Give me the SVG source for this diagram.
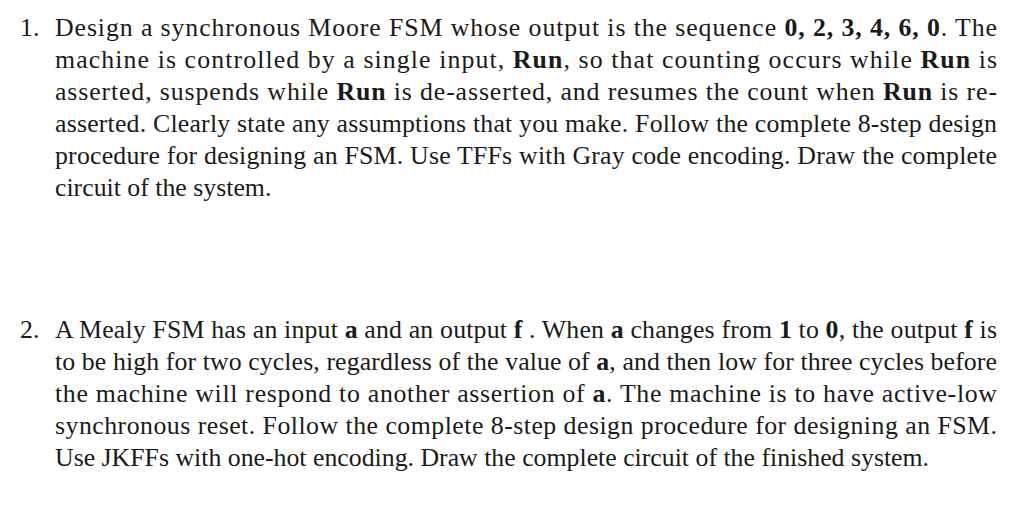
<svg xmlns="http://www.w3.org/2000/svg" width="1025" height="512" viewBox="0 0 1025 512">
<style>
text{font-family:"Liberation Serif","Times New Roman",serif;font-size:25.8px;fill:#1a1a1a}
.b{font-weight:bold}
</style>
<rect width="1025" height="512" fill="#fff"/>
<g id="q1">
<text x="20" y="36">1.</text>
<text x="55" y="36" textLength="942" lengthAdjust="spacing">Design a synchronous Moore FSM whose output is the sequence <tspan class="b">0, 2, 3, 4, 6, 0</tspan>. The</text>
<text x="55" y="68" textLength="942" lengthAdjust="spacing">machine is controlled by a single input, <tspan class="b">Run</tspan>, so that counting occurs while <tspan class="b">Run</tspan> is</text>
<text x="55" y="100" textLength="942" lengthAdjust="spacing">asserted, suspends while <tspan class="b">Run</tspan> is de-asserted, and resumes the count when <tspan class="b">Run</tspan> is re-</text>
<text x="55" y="132" textLength="942" lengthAdjust="spacing">asserted. Clearly state any assumptions that you make. Follow the complete 8-step design</text>
<text x="55" y="164" textLength="942" lengthAdjust="spacing">procedure for designing an FSM. Use TFFs with Gray code encoding. Draw the complete</text>
<text x="55" y="196">circuit of the system.</text>
</g>
<g id="q2">
<text x="20" y="338">2.</text>
<text x="55" y="338" textLength="942" lengthAdjust="spacing">A Mealy FSM has an input <tspan class="b">a</tspan> and an output <tspan class="b">f</tspan> . When <tspan class="b">a</tspan> changes from <tspan class="b">1</tspan> to <tspan class="b">0</tspan>, the output <tspan class="b">f</tspan> is</text>
<text x="55" y="370" textLength="942" lengthAdjust="spacing">to be high for two cycles, regardless of the value of <tspan class="b">a</tspan>, and then low for three cycles before</text>
<text x="55" y="402" textLength="942" lengthAdjust="spacing">the machine will respond to another assertion of <tspan class="b">a</tspan>. The machine is to have active-low</text>
<text x="55" y="434" textLength="942" lengthAdjust="spacing">synchronous reset. Follow the complete 8-step design procedure for designing an FSM.</text>
<text x="55" y="466">Use JKFFs with one-hot encoding. Draw the complete circuit of the finished system.</text>
</g>
</svg>
